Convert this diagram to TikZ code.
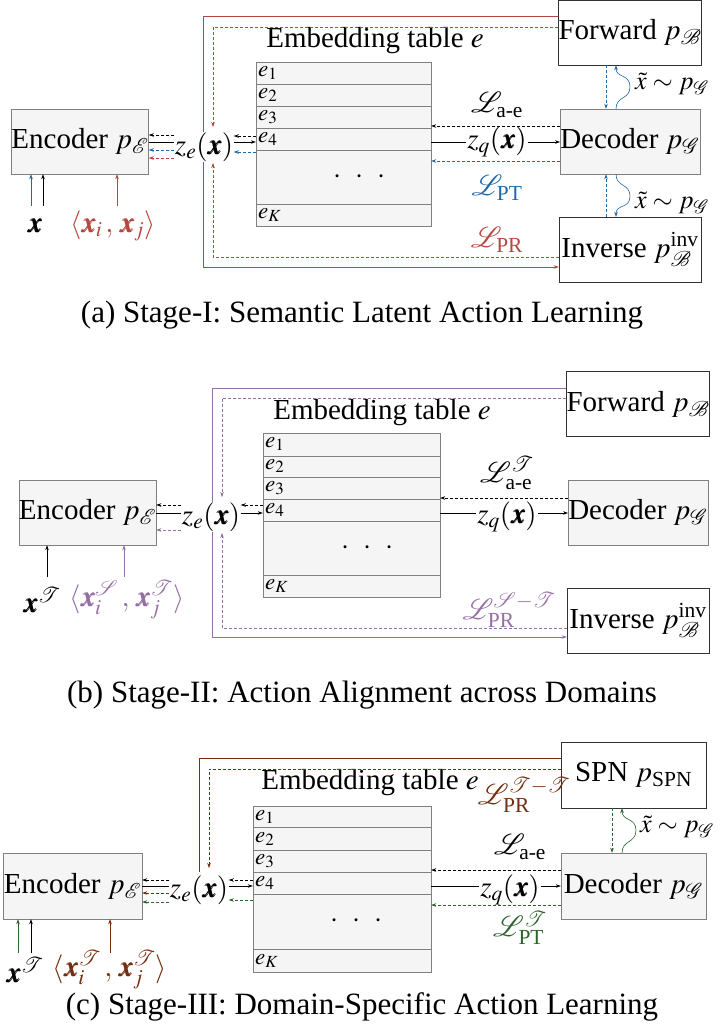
\documentclass[tikz,border=0pt]{standalone}
\usepackage{amsmath}
\usepackage{mathptmx}
\usepackage{bm}
\usepackage[no-math]{fontspec}
\setmainfont{Liberation Serif}
\usetikzlibrary{arrows.meta}
\definecolor{redc}{RGB}{180,72,62}
\definecolor{bluec}{RGB}{30,105,170}
\definecolor{purc}{RGB}{150,110,165}
\definecolor{brnc}{RGB}{115,45,15}
\definecolor{grnc}{RGB}{45,100,45}
\definecolor{boxg}{RGB}{245,245,245}
\newcommand{\tr}[1]{\textrm{#1}}
\newcommand{\sdots}{$\cdot\hspace{10pt}\cdot\hspace{10pt}\cdot$}
\begin{document}
\begin{tikzpicture}[x=1pt,y=-1pt,
  >={Stealth[length=5pt,width=3.5pt]},
  every node/.style={inner sep=1pt},
  gbox/.style={draw=black!50,fill=boxg,minimum width=137pt,minimum height=65pt,font=\fontsize{29}{32}\selectfont,inner sep=0pt},
  wbox/.style={draw=black!80,fill=white,minimum width=142pt,minimum height=65pt,font=\fontsize{29}{32}\selectfont,inner sep=0pt},
  tabbox/.style={draw=black!50,fill=boxg,minimum width=177pt,inner sep=0pt},
  rowline/.style={draw=black!50},
  elab/.style={anchor=west,font=\fontsize{23}{25}\selectfont},
  big/.style={font=\fontsize{29}{32}\selectfont},
  tld/.style={font=\fontsize{26}{30}\selectfont,anchor=west},
  captext/.style={font=\fontsize{31}{34}\selectfont},
  zn/.style={fill=white,font=\fontsize{29}{32}\selectfont,inner sep=0.5pt},
  ln/.style={line width=0.6pt},
  dl/.style={line width=0.6pt,dashed,dash pattern=on 3pt off 2pt},
]
\useasboundingbox (0,0) rectangle (724,1035);

%%%%%%%%%%%%%%%% Panel (a)
\node[wbox] (fwdA) at (630,32.5) {Forward $p_{\mathcal B}$};
\node[gbox] (decA) at (630,141.5) {Decoder $p_{\mathcal G}$};
\node[wbox] (invA) at (630,249.5) {Inverse $p_{\mathcal B}^{\tr{inv}}$};
\node[gbox,minimum width=136pt] (encA) at (80,141.5) {Encoder $p_{\mathcal E}$};
\node[tabbox,minimum width=175pt,minimum height=164pt] (tabA) at (343.5,144) {};
\foreach \yy in {84,106,128,150,204} \draw[rowline] (tabA.west |- 0,\yy) -- (tabA.east |- 0,\yy);
\node[elab] (a1) at (257,73) {$e_1$};
\node[elab] (a2) at (257,95) {$e_2$};
\node[elab] (a3) at (257,117) {$e_3$};
\node[elab] (a4) at (257,139) {$e_4$};
\node[elab] (aK) at (257,215) {$e_K$};
\node[big] (adots) at (360,177) {\sdots};
\node[big] (ttlA) at (375,41) {Embedding table $e$};
% feedback loops
\draw[redc,ln,->] (fwdA.west |- 0,16) -| (203,267) -- (invA.west |- 0,267);
\draw[redc,dl,->] (fwdA.west |- 0,27) -| (213,127);
\draw[redc,dl,->] (invA.west |- 0,257) -| (213,163);
\node[zn] (zeA) at (204,147) {$z_e(\bm{x})$};
\node[big] (zqA) at (497,142) {$z_q(\bm{x})$};
% encoder side
\draw[ln] (encA.east |- 0,142) -- (zeA.west |- 0,142);
\draw[dl,->] (zeA.west |- 0,135) -- (encA.east |- 0,135);
\draw[bluec,dl,->] (zeA.west |- 0,150) -- (encA.east |- 0,150);
\draw[redc,dl,->] (zeA.west |- 0,158) -- (encA.east |- 0,158);
% ze to table
\draw[ln,->] (zeA.east |- 0,142) -- (tabA.west |- 0,142);
\draw[dl,->] (tabA.west |- 0,136) -- (zeA.east |- 0,136);
\draw[bluec,dl,->] (tabA.west |- 0,152) -- (zeA.east |- 0,152);
% table to decoder
\draw[ln] (tabA.east |- 0,142) -- (zqA.west);
\draw[ln,->] (zqA.east) -- (decA.west |- 0,142);
\draw[dl,->] (decA.west |- 0,126) -- (tabA.east |- 0,126);
\draw[bluec,dl,->] (decA.west |- 0,161) -- (tabA.east |- 0,161);
\node[big] (LaeA) at (497,105) {$\mathcal{L}_{\tr{a-e}}$};
\node[big,text=bluec] (LptA) at (497,188) {$\mathcal{L}_{\tr{PT}}$};
\node[big,text=redc] (LprA) at (497,240) {$\mathcal{L}_{\tr{PR}}$};
% decoder - forward / inverse
\draw[bluec,dl,->] ([xshift=-24pt]fwdA.south) -- ([xshift=-24pt]decA.north);
\draw[bluec,ln,->] ([xshift=-14pt]decA.north) .. controls +(0,-13) and +(0,13) .. ++(14,-22) .. controls +(0,-13) and +(0,13) .. ([xshift=-14pt]fwdA.south);
\node[tld] (xtA1) at (634,84) {$\tilde{x}\sim p_{\mathcal G}$};
\draw[bluec,dl,->] ([xshift=-24pt]invA.north) -- ([xshift=-24pt]decA.south);
\draw[bluec,ln,->] ([xshift=-14pt]decA.south) .. controls +(0,13) and +(0,-13) .. ++(14,22) .. controls +(0,13) and +(0,-13) .. ([xshift=-14pt]invA.north);
\node[tld] (xtA2) at (634,203) {$\tilde{x}\sim p_{\mathcal G}$};
% inputs
\coordinate (ia1) at (31,206); \coordinate (ia2) at (43,206); \coordinate (ia3) at (117,206);
\draw[bluec,ln,->] (ia1) -- (encA.south -| ia1);
\draw[ln,->] (ia2) -- (encA.south -| ia2);
\draw[redc,ln,->] (ia3) -- (encA.south -| ia3);
\node[big] (xA) at (35,226) {$\bm{x}$};
\node[big,text=redc] (pairA) at (113,226) {$\langle \bm{x}_i\,,\,\bm{x}_j\rangle$};
\node[captext] (capA) at (362,315) {(a) Stage-I: Semantic Latent Action Learning};

%%%%%%%%%%%%%%%% Panel (b)
\node[wbox] (fwdB) at (638,404) {Forward $p_{\mathcal B}$};
\node[gbox] (decB) at (638,512.5) {Decoder $p_{\mathcal G}$};
\node[wbox] (invB) at (638,620.5) {Inverse $p_{\mathcal B}^{\tr{inv}}$};
\node[gbox] (encB) at (87.5,512.5) {Encoder $p_{\mathcal E}$};
\node[tabbox,minimum height=164pt] (tabB) at (351.5,515) {};
\foreach \yy in {456,477,499,521,575} \draw[rowline] (tabB.west |- 0,\yy) -- (tabB.east |- 0,\yy);
\node[elab] (b1) at (264,444) {$e_1$};
\node[elab] (b2) at (264,466) {$e_2$};
\node[elab] (b3) at (264,488) {$e_3$};
\node[elab] (b4) at (264,510) {$e_4$};
\node[elab] (bK) at (264,586) {$e_K$};
\node[big] (bdots) at (368,548) {\sdots};
\node[big] (ttlB) at (382,413) {Embedding table $e$};
\draw[purc,ln,->] (fwdB.west |- 0,388) -| (212,637) -- (invB.west |- 0,637);
\draw[purc,dl,->] (fwdB.west |- 0,398) -| (222,497);
\draw[purc,dl,->] (invB.west |- 0,628) -| (222,533);
\node[zn] (zeB) at (211,517) {$z_e(\bm{x})$};
\node[big] (zqB) at (507,517) {$z_q(\bm{x})$};
\draw[ln] (encB.east |- 0,513) -- (zeB.west |- 0,513);
\draw[dl,->] (zeB.west |- 0,505) -- (encB.east |- 0,505);
\draw[purc,dl,->] (zeB.west |- 0,530) -- (encB.east |- 0,530);
\draw[ln,->] (zeB.east |- 0,513) -- (tabB.west |- 0,513);
\draw[dl,->] (tabB.west |- 0,505) -- (zeB.east |- 0,505);
\draw[ln] (tabB.east |- 0,513) -- (zqB.west |- 0,513);
\draw[ln,->] (zqB.east |- 0,513) -- (decB.west |- 0,513);
\draw[dl,->] (decB.west |- 0,498) -- (tabB.east |- 0,498);
\node[big] (LaeB) at (507,473) {$\mathcal{L}^{\mathcal T}_{\tr{a-e}}$};
\node[big,text=purc] (LprB) at (509,610) {$\mathcal{L}^{\mathcal S-\mathcal T}_{\tr{PR}}$};
\coordinate (ib1) at (47,577); \coordinate (ib2) at (124,577);
\draw[ln,->] (ib1) -- (encB.south -| ib1);
\draw[purc,ln,->] (ib2) -- (encB.south -| ib2);
\node[big] (xB) at (42,600) {$\bm{x}^{\mathcal T}$};
\node[big,text=purc] (pairB) at (127,600) {$\langle \bm{x}^{\mathcal S}_i\,,\,\bm{x}^{\mathcal T}_j\rangle$};
\node[captext] (capB) at (362,695) {(b) Stage-II: Action Alignment across Domains};

%%%%%%%%%%%%%%%% Panel (c)
\node[wbox,minimum width=145pt,minimum height=66pt] (spnC) at (633.5,775) {SPN $p_{\tr{SPN}}$};
\node[gbox,minimum width=145pt,minimum height=66pt] (decC) at (633.5,886) {Decoder $p_{\mathcal G}$};
\node[gbox,minimum width=139pt,minimum height=66pt] (encC) at (72.5,886) {Encoder $p_{\mathcal E}$};
\node[tabbox,minimum width=178pt,minimum height=166pt] (tabC) at (342,889) {};
\foreach \yy in {827,850,872,894,949} \draw[rowline] (tabC.west |- 0,\yy) -- (tabC.east |- 0,\yy);
\node[elab] (c1) at (254,817) {$e_1$};
\node[elab] (c2) at (254,839) {$e_2$};
\node[elab] (c3) at (254,861) {$e_3$};
\node[elab] (c4) at (254,883) {$e_4$};
\node[elab] (cK) at (254,961) {$e_K$};
\node[big] (cdots) at (357,921) {\sdots};
\node[big] (ttlC) at (370,783) {Embedding table $e$};
\draw[brnc,ln] (spnC.west |- 0,758) -| (199,872);
\draw[brnc,dl,->] (spnC.west |- 0,769) -| (209,868);
\node[zn] (zeC) at (199,890) {$z_e(\bm{x})$};
\node[big] (zqC) at (510,890) {$z_q(\bm{x})$};
\draw[ln] (encC.east |- 0,886) -- (zeC.west |- 0,886);
\draw[dl,->] (zeC.west |- 0,880) -- (encC.east |- 0,880);
\draw[brnc,dl,->] (zeC.west |- 0,893) -- (encC.east |- 0,893);
\draw[grnc,dl,->] (zeC.west |- 0,902) -- (encC.east |- 0,902);
\draw[ln,->] (zeC.east |- 0,886) -- (tabC.west |- 0,886);
\draw[dl,->] (tabC.west |- 0,880) -- (zeC.east |- 0,880);
\draw[grnc,dl,->] (tabC.west |- 0,900) -- (zeC.east |- 0,900);
\draw[ln] (tabC.east |- 0,886) -- (zqC.west |- 0,886);
\draw[ln,->] (zqC.east |- 0,886) -- (decC.west |- 0,886);
\draw[dl,->] (decC.west |- 0,870) -- (tabC.east |- 0,870);
\draw[grnc,dl,->] (decC.west |- 0,905) -- (tabC.east |- 0,905);
\node[big,text=brnc] (LprC) at (524,795) {$\mathcal{L}^{\mathcal T-\mathcal T}_{\tr{PR}}$};
\node[big] (LaeC) at (520,847) {$\mathcal{L}_{\tr{a-e}}$};
\node[big,text=grnc] (LptC) at (520,928) {$\mathcal{L}^{\mathcal T}_{\tr{PT}}$};
\draw[grnc,dl,->] ([xshift=-21.5pt]spnC.south) -- ([xshift=-21.5pt]decC.north);
\draw[grnc,ln,->] ([xshift=-11.5pt]decC.north) .. controls +(0,-13) and +(0,13) .. ++(14,-22.5) .. controls +(0,-13) and +(0,13) .. ([xshift=-11.5pt]spnC.south);
\node[tld] (xtC) at (639,827) {$\tilde{x}\sim p_{\mathcal G}$};
\coordinate (ic1) at (18,953); \coordinate (ic2) at (31,953); \coordinate (ic3) at (110,953);
\draw[grnc,ln,->] (ic1) -- (encC.south -| ic1);
\draw[ln,->] (ic2) -- (encC.south -| ic2);
\draw[brnc,ln,->] (ic3) -- (encC.south -| ic3);
\node[big] (xC) at (25,970) {$\bm{x}^{\mathcal T}$};
\node[big,text=brnc] (pairC) at (110,970) {$\langle \bm{x}^{\mathcal T}_i\,,\,\bm{x}^{\mathcal T}_j\rangle$};
\node[captext] (capC) at (362,1007) {(c) Stage-III: Domain-Specific Action Learning};
\end{tikzpicture}
\end{document}
